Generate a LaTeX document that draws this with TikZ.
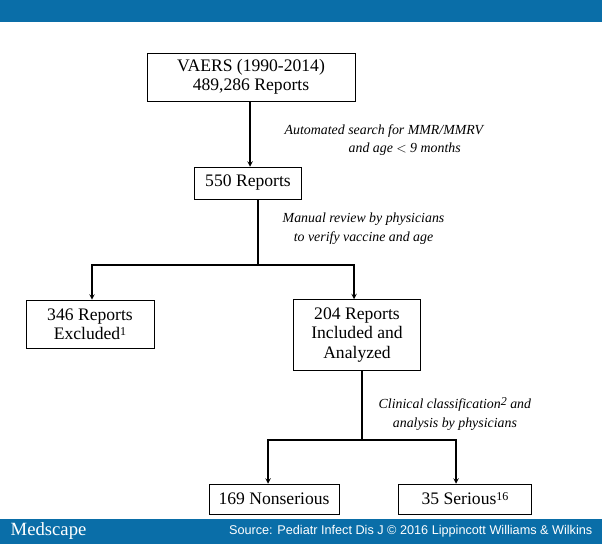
\documentclass[tikz,border=0pt]{standalone}
\usepackage{fontspec}
\setmainfont{Liberation Serif}
\setsansfont{Liberation Sans}
\usetikzlibrary{positioning,arrows}
\definecolor{medblue}{HTML}{0A6EA8}
\tikzset{
box/.style = {draw, fill=white, rectangle, align=center, font=\fontsize{13.2}{14.5}\selectfont, inner sep=2pt},
note/.style = {align=center, font=\itshape\fontsize{10.4}{14}\selectfont},
tmp/.style = {coordinate}
}
\newcommand{\supnum}[1]{\raisebox{0.5ex}{\fontsize{9}{9}\selectfont #1}}
\begin{document}
\begin{tikzpicture}[x=0.75pt,y=-0.75pt,>=stealth]
    % frame and bars
    \useasboundingbox (0,0) rectangle (602,544);
    \fill[medblue] (0,0) rectangle (602,22);
    \fill[medblue] (0,519) rectangle (602,544);
    \node[anchor=west, text=white, font=\fontsize{14}{16}\selectfont] (logo) at (6,531) {Medscape};
    \node[anchor=east, text=white, font=\sffamily\fontsize{9.5}{11}\selectfont] (src) at (597,531) {Source: Pediatr Infect Dis J \textcopyright{} 2016 Lippincott Williams \& Wilkins};

    % We start by placing the blocks
    \node [box, minimum width=208*0.75pt, minimum height=48*0.75pt] (vaers) at (251,77) {VAERS (1990-2014)\\489,286 Reports};
    \node [box, minimum width=107*0.75pt, minimum height=32*0.75pt] (r550) at (248,183) {550 Reports};
    \node [box, minimum width=128*0.75pt, minimum height=48*0.75pt] (excl) at (90,324) {346 Reports\\Excluded\supnum{1}};
    \node [box, minimum width=127*0.75pt, minimum height=71*0.75pt] (incl) at (357,335) {204 Reports\\Included and\\Analyzed};
    \node [box, minimum width=130*0.75pt, minimum height=30*0.75pt] (nons) at (274,499) {169 Nonserious};
    \node [box, minimum width=133*0.75pt, minimum height=30*0.75pt] (ser) at (465,499) {35 Serious\supnum{16}};
    \node [tmp] (split1) at (258,265) {};
    \node [tmp] (split2) at (362,440) {};

    % labels
    \node [note, anchor=west] (n1) at (280,140) {Automated search for MMR/MMRV\\\hspace*{3em}and age $<$ 9 months};
    \node [note, anchor=west] (n2) at (278,229) {Manual review by physicians\\to verify vaccine and age};
    \node [note, anchor=west] (n3) at (374,414) {Clinical classification\supnum{2} and\\analysis by physicians};

    % connectors
    \draw [->, thick] (vaers.south -| 250,0) -- (r550.north -| 250,0);
    \draw [thick] (r550.south -| split1) -- (split1);
    \draw [thick, ->] (split1) -| (excl.north -| 92,0);
    \draw [thick, ->] (split1) -| (incl.north -| 354,0);
    \draw [thick] (incl.south -| split2) -- (split2);
    \draw [thick, ->] (split2) -| (nons.north -| 268,0);
    \draw [thick, ->] (split2) -| (ser.north -| 456,0);
\end{tikzpicture}
\end{document}
